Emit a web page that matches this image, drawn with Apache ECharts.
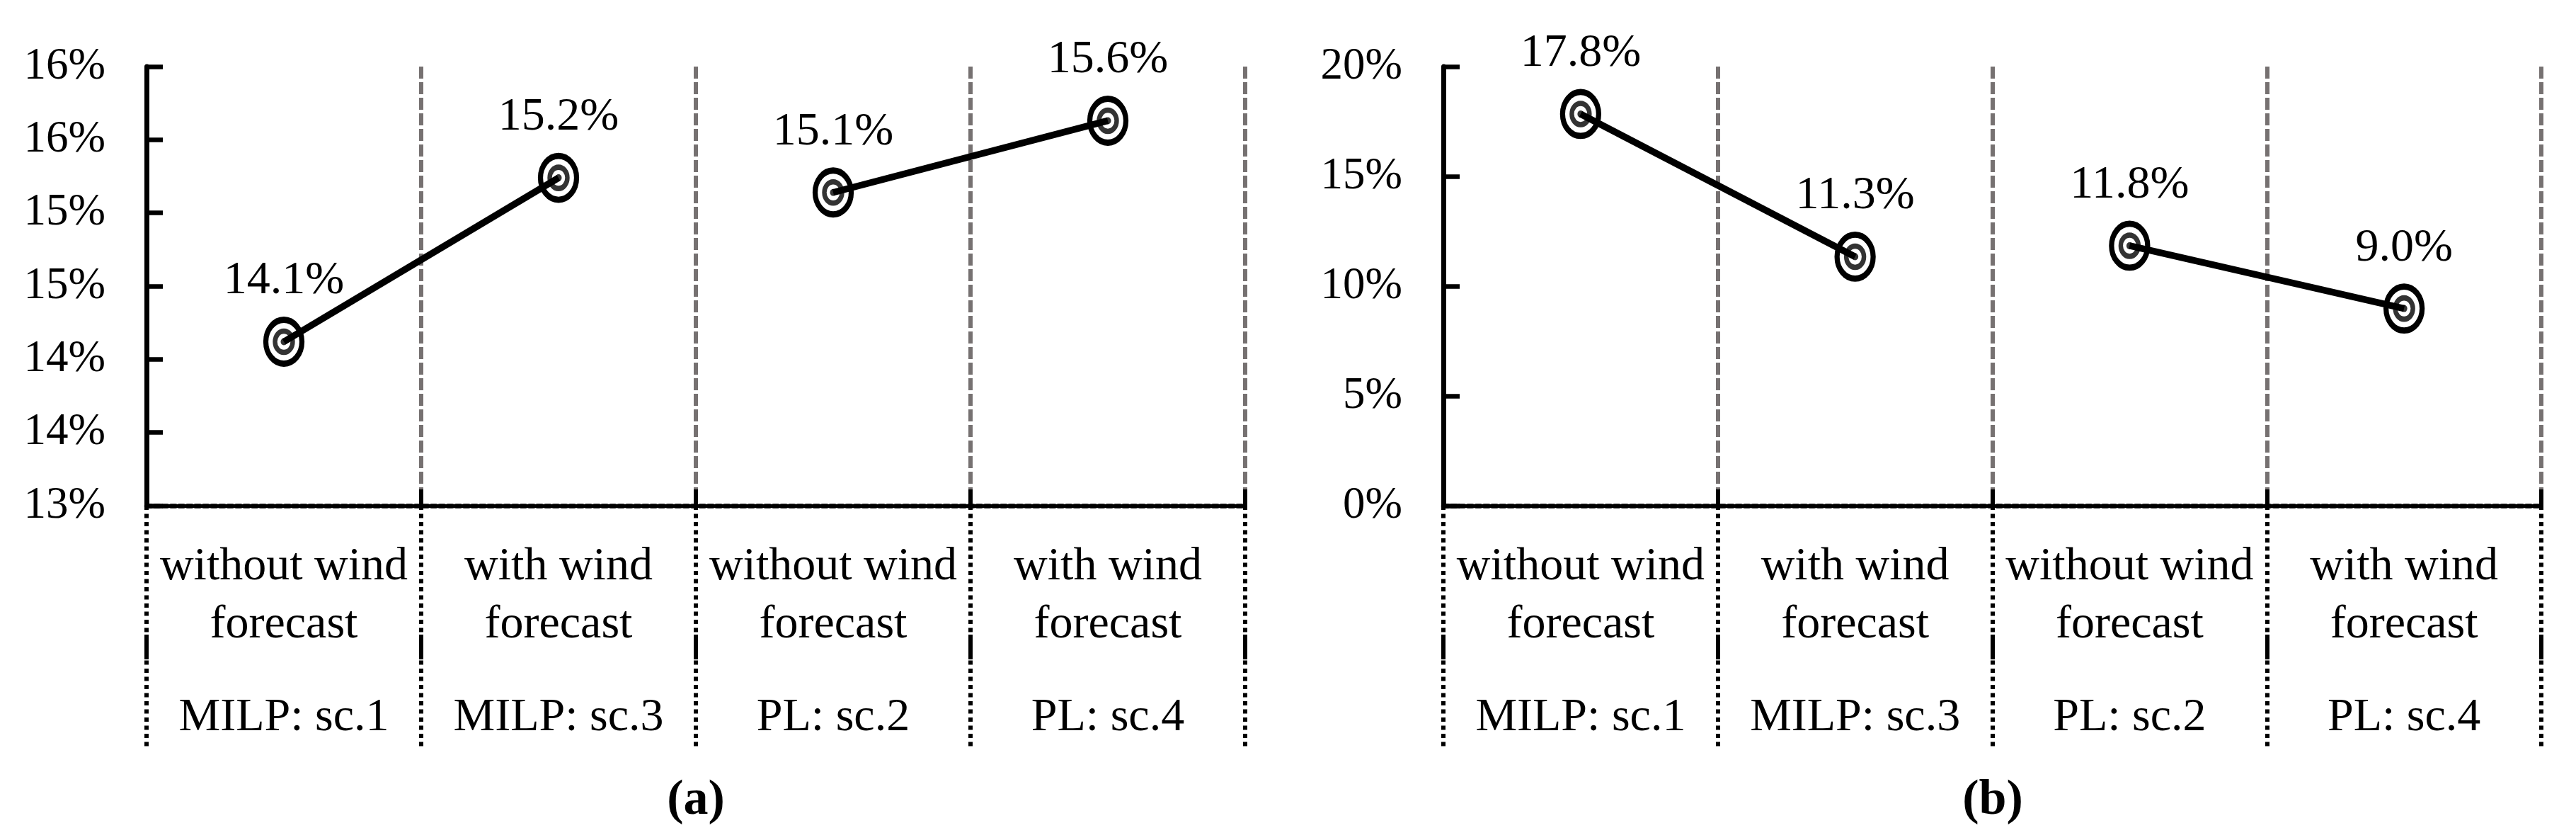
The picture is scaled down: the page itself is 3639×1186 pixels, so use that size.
<!DOCTYPE html>
<html>
<head>
<meta charset="utf-8">
<script src="https://cdn.jsdelivr.net/npm/echarts@6/dist/echarts.min.js"></script>
<style>
html,body{margin:0;padding:0;background:#fff;}
#chart{width:3639px;height:1186px;}
</style>
</head>
<body>
<div id="chart"></div>
<script>
// ---- data ----
const windLabels = ['without wind\nforecast', 'with wind\nforecast', 'without wind\nforecast', 'with wind\nforecast'];
const scenarios = ['MILP: sc.1', 'MILP: sc.3', 'PL: sc.2', 'PL: sc.4'];
const valuesA = [14.12, 15.24, 15.14, 15.63];
const valuesB = [17.84, 11.34, 11.84, 8.98];
const lineGroups = [[0, 1], [2, 3]];   // MILP pair, PL pair (drawn as separate segments)
const yTicksA = ['13%', '14%', '14%', '15%', '15%', '16%', '16%'];
const yTicksB = ['0%', '5%', '10%', '15%', '20%'];
const panelTitles = ['(a)', '(b)'];

const FONT = 'Liberation Serif';

const chart = echarts.init(document.getElementById('chart'), null, {renderer: 'canvas'});

const grids = [
  {left: 207, top: 94, width: 1552, height: 620},
  {left: 2039, top: 94, width: 1551, height: 620}
];

function xAxesFor(gi) {
  return [
    {
      type: 'category', gridIndex: gi, data: scenarios, boundaryGap: true, position: 'bottom',
      axisLine: {show: true, lineStyle: {color: '#000', width: 6.5, type: [6.5, 5]}},
      axisTick: {show: true, inside: false, length: 341, alignWithLabel: false,
        lineStyle: {color: '#000', width: 6, type: [6, 5.5]}},
      splitLine: {show: true, lineStyle: {color: '#767171', width: 6, type: [17, 5]}},
      axisLabel: {
        show: true, margin: 46, interval: 0,
        formatter: (val, idx) => '{a|' + windLabels[idx] + '}\n{b|' + val + '}',
        rich: {
          a: {fontFamily: FONT, fontSize: 66, lineHeight: 82, color: '#000', align: 'center'},
          b: {fontFamily: FONT, fontSize: 66, lineHeight: 180, color: '#000', align: 'center'}
        }
      }
    },
    {
      type: 'category', gridIndex: gi, data: scenarios, boundaryGap: true, position: 'bottom',
      axisLine: {show: false},
      axisTick: {show: true, inside: true, length: 23, lineStyle: {color: '#000', width: 6}},
      splitLine: {show: false}, axisLabel: {show: false}
    },
    {
      type: 'category', gridIndex: gi, data: scenarios, boundaryGap: true, position: 'bottom', offset: 182,
      axisLine: {show: false},
      axisTick: {show: true, inside: false, length: 35, lineStyle: {color: '#000', width: 6}},
      splitLine: {show: false}, axisLabel: {show: false}
    }
  ];
}

function yAxisFor(gi, min, max, interval, ticks) {
  return {
    type: 'value', gridIndex: gi, min: min, max: max, interval: interval,
    axisLine: {show: true, lineStyle: {color: '#000', width: 7}},
    axisTick: {show: true, inside: true, length: 23, lineStyle: {color: '#000', width: 6.5}},
    splitLine: {show: false},
    axisLabel: {
      margin: 58, fontFamily: FONT, fontSize: 63, color: '#000',
      formatter: (v) => ticks[Math.round((v - min) / interval)]
    }
  };
}

function seriesFor(xi, yi, data) {
  const out = [];
  lineGroups.forEach((g) => {
    const seg = data.map((v, i) => (g.indexOf(i) >= 0 ? v : '-'));
    out.push({
      type: 'line', xAxisIndex: xi, yAxisIndex: yi, data: seg, z: 3,
      connectNulls: false,
      lineStyle: {color: '#000', width: 9.5},
      symbol: 'circle', symbolSize: [51, 62], showAllSymbol: true,
      itemStyle: {color: 'rgba(0,0,0,0)', borderColor: '#000', borderWidth: 8},
      label: {
        show: true, position: 'top', distance: 17,
        fontFamily: FONT, fontSize: 66, lineHeight: 66, color: '#000',
        formatter: (p) => p.value.toFixed(1) + '%'
      }
    });
  });
  out.push({
    type: 'scatter', xAxisIndex: xi, yAxisIndex: yi, data: data, z: 4,
    symbol: 'circle', symbolSize: [25, 30],
    itemStyle: {color: 'rgba(0,0,0,0)', borderColor: '#000', borderWidth: 7}
  });
  out.push({
    type: 'scatter', xAxisIndex: xi, yAxisIndex: yi, data: data, z: 5,
    symbol: 'circle', symbolSize: [9, 10],
    itemStyle: {color: '#000'}
  });
  return out;
}

const option = {
  animation: false,
  backgroundColor: '#fff',
  grid: grids,
  xAxis: [...xAxesFor(0), ...xAxesFor(1)],
  yAxis: [
    yAxisFor(0, 13, 16, 0.5, yTicksA),
    yAxisFor(1, 0, 20, 5, yTicksB)
  ],
  series: [...seriesFor(0, 0, valuesA), ...seriesFor(3, 1, valuesB)],
  graphic: [
    {type: 'text', x: 983, y: 1131, silent: true,
     style: {text: panelTitles[0], fontFamily: FONT, fontSize: 70, fontWeight: 'bold', fill: '#000', align: 'center', verticalAlign: 'middle'}},
    {type: 'text', x: 2815, y: 1131, silent: true,
     style: {text: panelTitles[1], fontFamily: FONT, fontSize: 70, fontWeight: 'bold', fill: '#000', align: 'center', verticalAlign: 'middle'}}
  ]
};
chart.setOption(option);
</script>
</body>
</html>
